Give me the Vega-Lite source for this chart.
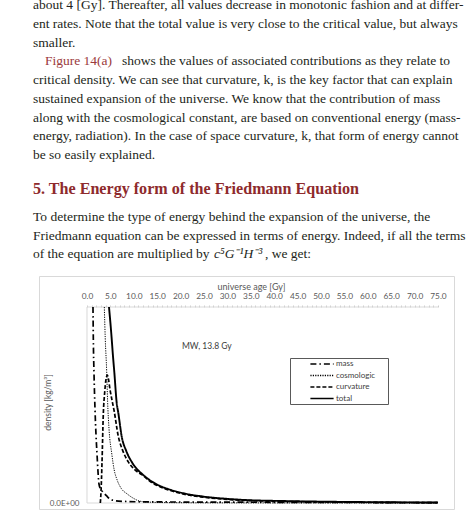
{
  "$schema": "https://vega.github.io/schema/vega-lite/v6.json",
  "padding": {"left": 33, "top": -2, "right": 0, "bottom": 0},
  "spacing": 0,
  "background": "#ffffff",
  "config": {"font": "Lato"},
  "resolve": {"legend": {"strokeDash": "independent"}},
  "datasets": {
    "page": [
      {"line": 1, "role": "body", "text": "about 4 [Gy]. Thereafter, all values decrease in monotonic fashion and at differ-"},
      {"line": 2, "role": "body", "text": "ent rates. Note that the total value is very close to the critical value, but always"},
      {"line": 3, "role": "body", "text": "smaller."},
      {"line": 4, "role": "ref", "text": "Figure 14(a)"},
      {"line": 4, "role": "after", "text": "shows the values of associated contributions as they relate to"},
      {"line": 5, "role": "body", "text": "critical density. We can see that curvature, k, is the key factor that can explain"},
      {"line": 6, "role": "body", "text": "sustained expansion of the universe. We know that the contribution of mass"},
      {"line": 7, "role": "body", "text": "along with the cosmological constant, are based on conventional energy (mass-"},
      {"line": 8, "role": "body", "text": "energy, radiation). In the case of space curvature, k, that form of energy cannot"},
      {"line": 9, "role": "body", "text": "be so easily explained."},
      {"line": 11, "role": "heading", "text": "5. The Energy form of the Friedmann Equation"},
      {"line": 12, "role": "para", "text": "To determine the type of energy behind the expansion of the universe, the"},
      {"line": 13, "role": "para", "text": "Friedmann equation can be expressed in terms of energy. Indeed, if all the terms"},
      {"line": 14, "role": "para", "text": "of the equation are multiplied by"},
      {"line": 14, "role": "math", "text": "c⁵G⁻¹H⁻³"},
      {"line": 14, "role": "tail", "text": ", we get:"}
    ],
    "curves": [
      {"series": "mass", "age": 1.28, "density": 100},
      {"series": "mass", "age": 1.35, "density": 84},
      {"series": "mass", "age": 1.5, "density": 66},
      {"series": "mass", "age": 1.71, "density": 48},
      {"series": "mass", "age": 1.92, "density": 35},
      {"series": "mass", "age": 2.14, "density": 25},
      {"series": "mass", "age": 2.35, "density": 16},
      {"series": "mass", "age": 2.56, "density": 9.7},
      {"series": "mass", "age": 2.9, "density": 7.2},
      {"series": "mass", "age": 3.42, "density": 5.6},
      {"series": "mass", "age": 4.2, "density": 3.6},
      {"series": "mass", "age": 4.91, "density": 2.0},
      {"series": "mass", "age": 6, "density": 1.2},
      {"series": "mass", "age": 8, "density": 0.8},
      {"series": "mass", "age": 12, "density": 0.6},
      {"series": "mass", "age": 20, "density": 0.5},
      {"series": "mass", "age": 35, "density": 0.4},
      {"series": "mass", "age": 50, "density": 0.3},
      {"series": "mass", "age": 75, "density": 0.2},
      {"series": "cosmologic", "age": 3.7, "density": 100},
      {"series": "cosmologic", "age": 3.9, "density": 84},
      {"series": "cosmologic", "age": 4.21, "density": 67},
      {"series": "cosmologic", "age": 4.4, "density": 52},
      {"series": "cosmologic", "age": 4.7, "density": 38},
      {"series": "cosmologic", "age": 5.3, "density": 25},
      {"series": "cosmologic", "age": 5.8, "density": 17},
      {"series": "cosmologic", "age": 6.4, "density": 12},
      {"series": "cosmologic", "age": 7.3, "density": 7.5},
      {"series": "cosmologic", "age": 8.6, "density": 4.6},
      {"series": "cosmologic", "age": 10, "density": 2.3},
      {"series": "cosmologic", "age": 11.2, "density": 1.0},
      {"series": "cosmologic", "age": 13, "density": 0.5},
      {"series": "cosmologic", "age": 17, "density": 0.2},
      {"series": "cosmologic", "age": 25, "density": 0.1},
      {"series": "cosmologic", "age": 40, "density": 0.05},
      {"series": "cosmologic", "age": 75, "density": 0.02},
      {"series": "curvature", "age": 2.85, "density": 0},
      {"series": "curvature", "age": 3.0, "density": 6},
      {"series": "curvature", "age": 3.2, "density": 20},
      {"series": "curvature", "age": 3.48, "density": 45},
      {"series": "curvature", "age": 3.8, "density": 57},
      {"series": "curvature", "age": 4.05, "density": 63},
      {"series": "curvature", "age": 4.34, "density": 65.3},
      {"series": "curvature", "age": 4.6, "density": 63},
      {"series": "curvature", "age": 4.91, "density": 58},
      {"series": "curvature", "age": 5.3, "density": 53},
      {"series": "curvature", "age": 5.8, "density": 47},
      {"series": "curvature", "age": 6.69, "density": 34},
      {"series": "curvature", "age": 7.6, "density": 27},
      {"series": "curvature", "age": 8.82, "density": 21},
      {"series": "curvature", "age": 10.2, "density": 17},
      {"series": "curvature", "age": 11.69, "density": 14.5},
      {"series": "curvature", "age": 13.82, "density": 10.5},
      {"series": "curvature", "age": 15.5, "density": 8.4},
      {"series": "curvature", "age": 17.37, "density": 6.7},
      {"series": "curvature", "age": 20.94, "density": 4.4},
      {"series": "curvature", "age": 24.8, "density": 3.0},
      {"series": "curvature", "age": 30.6, "density": 1.7},
      {"series": "curvature", "age": 35, "density": 1.2},
      {"series": "curvature", "age": 40, "density": 0.9},
      {"series": "curvature", "age": 50, "density": 0.55},
      {"series": "curvature", "age": 60, "density": 0.35},
      {"series": "curvature", "age": 75, "density": 0.2},
      {"series": "total", "age": 4.7, "density": 100},
      {"series": "total", "age": 5.0, "density": 92},
      {"series": "total", "age": 5.27, "density": 84},
      {"series": "total", "age": 5.55, "density": 75},
      {"series": "total", "age": 5.83, "density": 67},
      {"series": "total", "age": 6.35, "density": 51},
      {"series": "total", "age": 6.69, "density": 46},
      {"series": "total", "age": 7.41, "density": 34},
      {"series": "total", "age": 8.4, "density": 26.5},
      {"series": "total", "age": 9.55, "density": 21},
      {"series": "total", "age": 10.6, "density": 17.5},
      {"series": "total", "age": 11.69, "density": 15},
      {"series": "total", "age": 13.82, "density": 11},
      {"series": "total", "age": 15.5, "density": 8.8},
      {"series": "total", "age": 17.37, "density": 7.1},
      {"series": "total", "age": 20.94, "density": 4.8},
      {"series": "total", "age": 24.8, "density": 3.3},
      {"series": "total", "age": 30.6, "density": 2.0},
      {"series": "total", "age": 35, "density": 1.4},
      {"series": "total", "age": 40, "density": 1.1},
      {"series": "total", "age": 50, "density": 0.7},
      {"series": "total", "age": 60, "density": 0.45},
      {"series": "total", "age": 75, "density": 0.25}
    ]
  },
  "vconcat": [
    {
      "width": 415,
      "height": 275,
      "view": {"stroke": null},
      "data": {"name": "page"},
      "layer": [
        {
          "transform": [{"filter": "datum.role === 'body'"}],
          "mark": {"type": "text", "align": "left", "baseline": "middle", "font": "Liberation Serif", "fontSize": 13.5, "color": "#231f20"},
          "encoding": {
            "x": {"datum": 0, "type": "quantitative", "scale": {"domain": [6, 421], "nice": false, "zero": false}, "axis": null},
            "y": {"field": "line", "type": "quantitative", "scale": {"domain": [0.7333, 15.4], "reverse": true, "nice": false, "zero": false}, "axis": null},
            "text": {"field": "text"}
          }
        },
        {
          "transform": [{"filter": "datum.role === 'ref'"}],
          "mark": {"type": "text", "align": "left", "baseline": "middle", "font": "Liberation Serif", "fontSize": 13.5, "color": "#9b3a3c"},
          "encoding": {
            "x": {"datum": 12, "type": "quantitative", "scale": {"domain": [6, 421], "nice": false, "zero": false}, "axis": null},
            "y": {"field": "line", "type": "quantitative", "scale": {"domain": [0.7333, 15.4], "reverse": true, "nice": false, "zero": false}, "axis": null},
            "text": {"field": "text"}
          }
        },
        {
          "transform": [{"filter": "datum.role === 'after'"}],
          "mark": {"type": "text", "align": "left", "baseline": "middle", "font": "Liberation Serif", "fontSize": 13.5, "color": "#231f20"},
          "encoding": {
            "x": {"datum": 89, "type": "quantitative", "scale": {"domain": [6, 421], "nice": false, "zero": false}, "axis": null},
            "y": {"field": "line", "type": "quantitative", "scale": {"domain": [0.7333, 15.4], "reverse": true, "nice": false, "zero": false}, "axis": null},
            "text": {"field": "text"}
          }
        },
        {
          "transform": [{"filter": "datum.role === 'heading'"}],
          "mark": {"type": "text", "align": "left", "baseline": "middle", "font": "Liberation Serif", "fontSize": 16.1, "fontWeight": "bold", "color": "#8e2a2c", "dy": -4},
          "encoding": {
            "x": {"datum": 0, "type": "quantitative", "scale": {"domain": [6, 421], "nice": false, "zero": false}, "axis": null},
            "y": {"field": "line", "type": "quantitative", "scale": {"domain": [0.7333, 15.4], "reverse": true, "nice": false, "zero": false}, "axis": null},
            "text": {"field": "text"}
          }
        },
        {
          "transform": [{"filter": "datum.role === 'para'"}],
          "mark": {"type": "text", "align": "left", "baseline": "middle", "font": "Liberation Serif", "fontSize": 13.5, "color": "#231f20", "dy": 5.5},
          "encoding": {
            "x": {"datum": 0, "type": "quantitative", "scale": {"domain": [6, 421], "nice": false, "zero": false}, "axis": null},
            "y": {"field": "line", "type": "quantitative", "scale": {"domain": [0.7333, 15.4], "reverse": true, "nice": false, "zero": false}, "axis": null},
            "text": {"field": "text"}
          }
        },
        {
          "transform": [{"filter": "datum.role === 'math'"}],
          "mark": {"type": "text", "align": "left", "baseline": "middle", "font": "Liberation Serif", "fontSize": 13.5, "fontStyle": "italic", "color": "#231f20", "dy": 5.5},
          "encoding": {
            "x": {"datum": 181, "type": "quantitative", "scale": {"domain": [6, 421], "nice": false, "zero": false}, "axis": null},
            "y": {"field": "line", "type": "quantitative", "scale": {"domain": [0.7333, 15.4], "reverse": true, "nice": false, "zero": false}, "axis": null},
            "text": {"field": "text"}
          }
        },
        {
          "transform": [{"filter": "datum.role === 'tail'"}],
          "mark": {"type": "text", "align": "left", "baseline": "middle", "font": "Liberation Serif", "fontSize": 13.5, "color": "#231f20", "dy": 5.5},
          "encoding": {
            "x": {"datum": 232, "type": "quantitative", "scale": {"domain": [6, 421], "nice": false, "zero": false}, "axis": null},
            "y": {"field": "line", "type": "quantitative", "scale": {"domain": [0.7333, 15.4], "reverse": true, "nice": false, "zero": false}, "axis": null},
            "text": {"field": "text"}
          }
        }
      ]
    },
    {
      "width": 415,
      "height": 233,
      "view": {"stroke": "#d9d9d9", "strokeWidth": 1},
      "resolve": {"axis": {"x": "independent", "y": "independent"}},
      "layer": [
        {
          "data": {"values": [{}]},
          "mark": {"type": "rule", "color": "#d9d9d9", "strokeWidth": 1},
          "encoding": {
            "x": {"datum": 0, "type": "quantitative", "axis": null},
            "x2": {"datum": 75},
            "y": {"datum": 0, "type": "quantitative", "axis": null}
          }
        },
        {
          "data": {"values": [{}]},
          "mark": {"type": "rule", "color": "#d9d9d9", "strokeWidth": 1},
          "encoding": {
            "x": {
              "datum": 0, "type": "quantitative",
              "axis": {
                "orient": "top", "offset": -31,
                "values": [0,1,2,3,4,5,6,7,8,9,10,11,12,13,14,15,16,17,18,19,20,21,22,23,24,25,26,27,28,29,30,31,32,33,34,35,36,37,38,39,40,41,42,43,44,45,46,47,48,49,50,51,52,53,54,55,56,57,58,59,60,61,62,63,64,65,66,67,68,69,70,71,72,73,74,75],
                "labels": false, "domain": false, "grid": false, "title": null,
                "ticks": true, "tickSize": 2, "tickColor": "#bfbfbf", "tickWidth": 0.8
              }
            },
            "x2": {"datum": 75},
            "y": {"datum": 100, "type": "quantitative", "axis": null}
          }
        },
        {
          "data": {"values": [{}]},
          "mark": {"type": "rule", "color": "#d9d9d9", "strokeWidth": 1},
          "encoding": {
            "x": {"datum": 0, "type": "quantitative", "axis": null},
            "y": {"datum": 0, "type": "quantitative", "axis": null},
            "y2": {"datum": 100}
          }
        },
        {
          "data": {"name": "curves"},
          "mark": {"type": "line", "color": "#000000", "interpolate": "monotone"},
          "encoding": {
            "x": {
              "field": "age", "type": "quantitative",
              "scale": {"domain": [-10.256, 78.42], "nice": false, "zero": false},
              "axis": {
                "orient": "top", "offset": -31,
                "values": [0, 5, 10, 15, 20, 25, 30, 35, 40, 45, 50, 55, 60, 65, 70, 75],
                "format": ".1f",
                "labelOverlap": false, "labelFlush": false,
                "domain": false, "grid": false, "ticks": false,
                "labelFont": "Lato", "labelFontSize": 8.3, "labelColor": "#595959", "labelPadding": 7,
                "title": "universe age [Gy]",
                "titleFont": "Lato", "titleFontSize": 9, "titleFontWeight": "normal", "titleColor": "#595959",
                "titleX": 212, "titleY": -21, "titleAlign": "center", "titleBaseline": "middle"
              }
            },
            "y": {
              "field": "density", "type": "quantitative",
              "scale": {"domain": [-3.06, 115.82], "nice": false, "zero": false},
              "axis": {
                "orient": "left", "offset": -48,
                "values": [0],
                "labelExpr": "'0.0E+00'",
                "domain": false, "ticks": false, "grid": false,
                "labelFont": "Lato", "labelFontSize": 8, "labelColor": "#595959", "labelPadding": 8,
                "title": "density [kg/m³]",
                "titleFont": "Lato", "titleFontSize": 8.5, "titleFontWeight": "normal", "titleColor": "#595959",
                "titleX": -40, "titleY": 126, "titleAlign": "center", "titleBaseline": "middle", "titleAngle": -90
              }
            },
            "strokeDash": {
              "field": "series", "type": "nominal",
              "scale": {"domain": ["mass", "cosmologic", "curvature", "total"], "range": [[6, 3, 1.5, 3], [1.2, 1.2], [4, 2], [1, 0]]},
              "legend": {
                "orient": "none", "legendX": 251, "legendY": 82,
                "title": "\u00a0", "titleOrient": "right", "titlePadding": 12, "titleFontSize": 8,
                "symbolType": "M-2.9,0H2.9", "symbolSize": 64, "symbolStrokeColor": "#000000", "symbolStrokeWidth": 1.6,
                "symbolOffset": 26, "labelOffset": 9, "padding": 1, "rowPadding": 2.5,
                "labelFont": "Lato", "labelFontSize": 8, "labelColor": "#404040",
                "strokeColor": "#595959", "fillColor": "#ffffff"
              }
            },
            "strokeWidth": {
              "field": "series", "type": "ordinal",
              "scale": {"type": "ordinal", "domain": ["mass", "cosmologic", "curvature", "total"], "range": [1.7, 1, 1.7, 1.9]},
              "legend": null
            }
          }
        },
        {
          "data": {"values": [{}]},
          "mark": {"type": "text", "text": "MW, 13.8 Gy", "font": "Lato", "fontSize": 8.5, "color": "#404040", "align": "center", "baseline": "middle"},
          "encoding": {
            "x": {"datum": 25.6, "type": "quantitative", "axis": null},
            "y": {"datum": 80, "type": "quantitative", "axis": null}
          }
        }
      ]
    }
  ]
}
